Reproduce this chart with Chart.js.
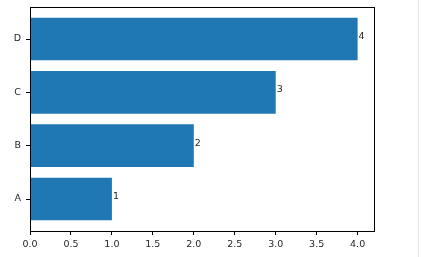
<!DOCTYPE html>
<html>
<head>
<meta charset="utf-8">
<script src="https://cdn.jsdelivr.net/npm/chart.js@4/dist/chart.umd.min.js"></script>
<style>
  html, body { margin: 0; padding: 0; background: #fff; }
  #wrap { position: relative; width: 425px; height: 257px; }
  #edge { position: absolute; left: 418px; top: 0; width: 1px; height: 257px; background: #e6e6e6; }
</style>
</head>
<body>
<div id="wrap">
  <canvas id="barChart" width="425" height="257"></canvas>
  <div id="edge"></div>
</div>
<script>
// categories and values, bottom to top
const categories = ['A', 'B', 'C', 'D'];
const values = [1, 2, 3, 4];
const xTicks = [0, 0.5, 1, 1.5, 2, 2.5, 3, 3.5, 4];

const FONT = { family: 'DejaVu Sans', size: 9.5 };
const TEXT = '#262626';

// frame on top and right like matplotlib's axes box
const boxPlugin = {
  id: 'box',
  afterDraw(chart) {
    const { ctx, chartArea: a } = chart;
    ctx.save();
    ctx.strokeStyle = '#000';
    ctx.lineWidth = 1;
    ctx.strokeRect(a.left + 0.5, a.top + 0.5, a.right - a.left, a.bottom - a.top);
    ctx.restore();
  }
};

// number printed just after each bar end
const valueLabels = {
  id: 'valueLabels',
  afterDatasetsDraw(chart) {
    const ctx = chart.ctx;
    const meta = chart.getDatasetMeta(0);
    ctx.save();
    ctx.font = FONT.size + 'px ' + FONT.family;
    ctx.fillStyle = TEXT;
    ctx.textAlign = 'left';
    ctx.textBaseline = 'alphabetic';
    meta.data.forEach((bar, i) => {
      ctx.fillText(String(values[i]), bar.x + 1, bar.y);
    });
    ctx.restore();
  }
};

new Chart(document.getElementById('barChart'), {
  type: 'bar',
  data: {
    datasets: [{
      data: values.map((v, i) => ({ x: v, y: i })),
      backgroundColor: '#1f77b4',
      borderWidth: 0,
      barPercentage: 0.8,
      categoryPercentage: 1.0
    }]
  },
  options: {
    indexAxis: 'y',
    responsive: false,
    animation: false,
    layout: { padding: { left: 0, top: 7, right: 51, bottom: 0 } },
    plugins: { legend: { display: false }, tooltip: { enabled: false } },
    scales: {
      x: {
        type: 'linear',
        min: 0,
        max: 4.2,
        afterBuildTicks: axis => { axis.ticks = xTicks.map(v => ({ value: v })); },
        afterFit: axis => { axis.height = 26; },
        ticks: { font: FONT, color: TEXT, padding: 4, maxRotation: 0, callback: v => v.toFixed(1) },
        grid: { drawOnChartArea: false, drawTicks: true, tickLength: 4, tickColor: '#000' },
        border: { display: true, color: '#000' }
      },
      y: {
        type: 'linear',
        offset: false,
        min: -0.6,
        max: 3.6,
        afterBuildTicks: axis => { axis.ticks = categories.map((c, i) => ({ value: i })); },
        // fixed axis width, and no extra room above/below for the labels
        afterFit: axis => { axis.width = 30; axis.paddingTop = 0; axis.paddingBottom = 0; },
        ticks: { font: FONT, color: TEXT, padding: 5, callback: v => categories[v] },
        grid: { offset: false, drawOnChartArea: false, drawTicks: true, tickLength: 4, tickColor: '#000' },
        border: { display: true, color: '#000' }
      }
    }
  },
  plugins: [boxPlugin, valueLabels]
});
</script>
</body>
</html>
